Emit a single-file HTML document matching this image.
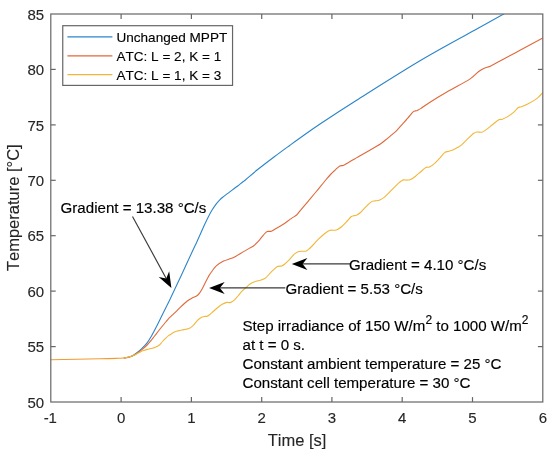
<!DOCTYPE html>
<html><head><meta charset="utf-8"><title>Temperature plot</title>
<style>
html,body{margin:0;padding:0;background:#fff;}
svg{display:block;}
text{font-family:"Liberation Sans",sans-serif;fill:#000;font-kerning:none;}
.tk{font-size:15px;fill:#262626;stroke:#262626;stroke-width:0.12px;}
.lb{font-size:16.5px;fill:#262626;stroke:#262626;stroke-width:0.12px;}
.an{font-size:15.1px;stroke:#000;stroke-width:0.15px;}
.lg{font-size:13.55px;stroke:#000;stroke-width:0.12px;}
</style></head><body>
<svg width="550" height="454" viewBox="0 0 550 454">
<rect x="0" y="0" width="550" height="454" fill="#fff"/>
<defs><clipPath id="c"><rect x="50.8" y="14.0" width="492.0" height="388.0"/></clipPath></defs>
<g clip-path="url(#c)">
<path fill="none" stroke="#2A85CB" stroke-width="1.10" stroke-linejoin="round" d="M124.00,358.00C124.67,357.88 126.58,357.68 128.00,357.30C129.42,356.92 130.90,356.55 132.50,355.70C134.10,354.85 136.02,353.43 137.60,352.20C139.18,350.97 140.42,349.87 142.00,348.30C143.58,346.73 145.52,344.85 147.10,342.80C148.68,340.75 149.93,338.70 151.50,336.00C153.07,333.30 154.80,329.93 156.50,326.60C158.20,323.27 160.17,319.10 161.70,316.00C163.23,312.90 164.35,310.70 165.70,308.00C167.05,305.30 167.27,305.10 169.80,299.80C172.33,294.50 177.03,284.50 180.90,276.20C184.77,267.90 190.38,255.63 193.00,250.00C195.62,244.37 195.35,245.10 196.60,242.40C197.85,239.70 199.20,236.70 200.50,233.80C201.80,230.90 203.17,227.68 204.40,225.00C205.63,222.32 206.65,220.15 207.90,217.70C209.15,215.25 210.57,212.53 211.90,210.30C213.23,208.07 214.58,206.05 215.90,204.30C217.22,202.55 218.48,201.12 219.80,199.80C221.12,198.48 222.47,197.47 223.80,196.40C225.13,195.33 226.32,194.53 227.80,193.40C229.28,192.27 231.05,190.83 232.70,189.60C234.35,188.37 236.05,187.27 237.70,186.00C239.35,184.73 241.32,183.00 242.60,182.00C243.88,181.00 242.83,182.12 245.40,180.00C247.97,177.88 253.23,173.13 258.00,169.30C262.77,165.47 268.67,161.02 274.00,157.00C279.33,152.98 285.67,148.37 290.00,145.20C294.33,142.03 295.00,141.53 300.00,138.00C305.00,134.47 310.50,130.33 320.00,124.00C329.50,117.67 340.33,110.53 357.00,100.00C373.67,89.47 400.33,72.47 420.00,60.80C439.67,49.13 460.90,37.88 475.00,30.00C489.10,22.12 497.93,17.22 504.60,13.50C511.27,9.78 513.27,8.67 515.00,7.70"/>
<path fill="none" stroke="#E0683A" stroke-width="1.10" stroke-linejoin="round" d="M123.60,358.00C124.33,357.90 126.52,357.75 128.00,357.40C129.48,357.05 131.08,356.52 132.50,355.90C133.92,355.28 134.88,354.78 136.50,353.70C138.12,352.62 140.43,350.85 142.20,349.40C143.97,347.95 145.55,346.57 147.10,345.00C148.65,343.43 150.25,341.50 151.50,340.00C152.75,338.50 153.18,337.83 154.60,336.00C156.02,334.17 158.13,331.33 160.00,329.00C161.87,326.67 164.47,323.62 165.80,322.00C167.13,320.38 166.92,320.43 168.00,319.30C169.08,318.17 170.97,316.48 172.30,315.20C173.63,313.92 174.72,312.87 176.00,311.60C177.28,310.33 178.12,309.37 180.00,307.60C181.88,305.83 185.28,302.60 187.30,301.00C189.32,299.40 190.48,298.88 192.10,298.00C193.72,297.12 195.77,296.50 197.00,295.70C198.23,294.90 198.70,294.23 199.50,293.20C200.30,292.17 200.82,291.28 201.80,289.50C202.78,287.72 204.20,284.82 205.40,282.50C206.60,280.18 207.82,277.60 209.00,275.60C210.18,273.60 211.28,272.12 212.50,270.50C213.72,268.88 214.45,267.47 216.30,265.90C218.15,264.33 221.18,262.32 223.60,261.10C226.02,259.88 228.82,259.38 230.80,258.60C232.78,257.82 233.43,257.52 235.50,256.40C237.57,255.28 240.85,253.28 243.20,251.90C245.55,250.52 247.83,249.13 249.60,248.10C251.37,247.07 252.32,246.85 253.80,245.70C255.28,244.55 257.07,242.77 258.50,241.20C259.93,239.63 261.12,237.80 262.40,236.30C263.68,234.80 265.30,233.02 266.20,232.20C267.10,231.38 266.93,231.57 267.80,231.40C268.67,231.23 270.18,231.60 271.40,231.20C272.62,230.80 273.67,229.83 275.10,229.00C276.53,228.17 278.63,227.00 280.00,226.20C281.37,225.40 281.38,225.50 283.30,224.20C285.22,222.90 289.28,219.93 291.50,218.40C293.72,216.87 295.22,216.20 296.60,215.00C297.98,213.80 297.88,213.48 299.80,211.20C301.72,208.92 305.35,204.58 308.10,201.30C310.85,198.02 313.37,195.05 316.30,191.50C319.23,187.95 323.25,182.92 325.70,180.00C328.15,177.08 329.38,175.68 331.00,174.00C332.62,172.32 333.93,171.25 335.40,169.90C336.87,168.55 338.52,166.63 339.80,165.90C341.08,165.17 341.78,166.00 343.10,165.50C344.42,165.00 345.72,164.03 347.70,162.90C349.68,161.77 353.08,159.82 355.00,158.70C356.92,157.58 356.95,157.50 359.20,156.20C361.45,154.90 365.67,152.52 368.50,150.90C371.33,149.28 374.28,147.60 376.20,146.50C378.12,145.40 378.62,145.25 380.00,144.30C381.38,143.35 382.83,142.13 384.50,140.80C386.17,139.47 388.02,137.97 390.00,136.30C391.98,134.63 394.40,132.75 396.40,130.80C398.40,128.85 400.07,126.77 402.00,124.60C403.93,122.43 406.42,119.63 408.00,117.80C409.58,115.97 410.58,114.63 411.50,113.60C412.42,112.57 412.83,112.05 413.50,111.60C414.17,111.15 414.85,111.10 415.50,110.90C416.15,110.70 416.48,110.82 417.40,110.40C418.32,109.98 418.90,109.77 421.00,108.40C423.10,107.03 425.55,105.02 430.00,102.20C434.45,99.38 441.07,95.35 447.70,91.50C454.33,87.65 464.68,82.38 469.80,79.10C474.92,75.82 475.98,73.62 478.40,71.80C480.82,69.98 482.22,69.17 484.30,68.20C486.38,67.23 488.28,67.22 490.90,66.00C493.52,64.78 495.07,63.57 500.00,60.90C504.93,58.23 513.37,53.83 520.50,50.00C527.63,46.17 539.08,39.92 542.80,37.90"/>
<path fill="none" stroke="#F0B83A" stroke-width="1.10" stroke-linejoin="round" d="M124.00,358.00C124.67,357.88 126.58,357.67 128.00,357.30C129.42,356.93 131.08,356.35 132.50,355.80C133.92,355.25 135.25,354.60 136.50,354.00C137.75,353.40 138.83,352.77 140.00,352.20C141.17,351.63 142.30,351.07 143.50,350.60C144.70,350.13 146.00,349.75 147.20,349.40C148.40,349.05 149.48,348.80 150.70,348.50C151.92,348.20 153.45,347.92 154.50,347.60C155.55,347.28 156.18,347.03 157.00,346.60C157.82,346.17 158.48,345.85 159.40,345.00C160.32,344.15 161.43,342.65 162.50,341.50C163.57,340.35 164.80,339.08 165.80,338.10C166.80,337.12 167.67,336.25 168.50,335.60C169.33,334.95 169.80,334.80 170.80,334.20C171.80,333.60 173.30,332.55 174.50,332.00C175.70,331.45 176.78,331.23 178.00,330.90C179.22,330.57 180.50,330.27 181.80,330.00C183.10,329.73 184.60,329.53 185.80,329.30C187.00,329.07 187.85,329.17 189.00,328.60C190.15,328.03 191.70,326.77 192.70,325.90C193.70,325.03 194.20,324.32 195.00,323.40C195.80,322.48 196.67,321.27 197.50,320.40C198.33,319.53 199.18,318.78 200.00,318.20C200.82,317.62 201.57,317.20 202.40,316.90C203.23,316.60 204.20,316.52 205.00,316.40C205.80,316.28 206.45,316.47 207.20,316.20C207.95,315.93 208.70,315.40 209.50,314.80C210.30,314.20 210.57,313.87 212.00,312.60C213.43,311.33 216.40,308.58 218.10,307.20C219.80,305.82 220.75,305.10 222.20,304.30C223.65,303.50 225.50,302.68 226.80,302.40C228.10,302.12 228.80,302.93 230.00,302.60C231.20,302.27 232.67,301.50 234.00,300.40C235.33,299.30 236.67,297.53 238.00,296.00C239.33,294.47 240.67,292.60 242.00,291.20C243.33,289.80 244.67,288.80 246.00,287.60C247.33,286.40 248.67,284.93 250.00,284.00C251.33,283.07 252.67,282.53 254.00,282.00C255.33,281.47 256.67,281.17 258.00,280.80C259.33,280.43 260.67,280.33 262.00,279.80C263.33,279.27 264.62,278.75 266.00,277.60C267.38,276.45 268.97,274.28 270.30,272.90C271.63,271.52 272.80,270.35 274.00,269.30C275.20,268.25 276.20,267.17 277.50,266.60C278.80,266.03 280.63,266.30 281.80,265.90C282.97,265.50 283.40,265.08 284.50,264.20C285.60,263.32 286.93,262.10 288.40,260.60C289.87,259.10 292.03,256.48 293.30,255.20C294.57,253.92 295.20,253.47 296.00,252.90C296.80,252.33 297.18,252.08 298.10,251.80C299.02,251.52 300.27,251.30 301.50,251.20C302.73,251.10 304.33,251.50 305.50,251.20C306.67,250.90 307.40,250.27 308.50,249.40C309.60,248.53 310.48,247.67 312.10,246.00C313.72,244.33 316.18,241.40 318.20,239.40C320.22,237.40 322.62,235.32 324.20,234.00C325.78,232.68 326.68,232.13 327.70,231.50C328.72,230.87 329.07,230.42 330.30,230.20C331.53,229.98 333.90,230.32 335.10,230.20C336.30,230.08 336.48,230.03 337.50,229.50C338.52,228.97 339.78,228.20 341.20,227.00C342.62,225.80 344.40,223.97 346.00,222.30C347.60,220.63 349.72,218.03 350.80,217.00C351.88,215.97 351.88,216.33 352.50,216.10C353.12,215.87 353.75,215.80 354.50,215.60C355.25,215.40 356.00,215.42 357.00,214.90C358.00,214.38 359.62,213.22 360.50,212.50C361.38,211.78 361.20,211.75 362.30,210.60C363.40,209.45 365.48,207.13 367.10,205.60C368.72,204.07 370.68,202.18 372.00,201.40C373.32,200.62 373.80,201.08 375.00,200.90C376.20,200.72 377.68,200.88 379.20,200.30C380.72,199.72 382.48,198.65 384.10,197.40C385.72,196.15 387.30,194.38 388.90,192.80C390.50,191.22 392.08,189.52 393.70,187.90C395.32,186.28 397.33,184.25 398.60,183.10C399.87,181.95 400.50,181.53 401.30,181.00C402.10,180.47 402.43,180.05 403.40,179.90C404.37,179.75 405.88,180.18 407.10,180.10C408.32,180.02 409.30,180.05 410.70,179.40C412.10,178.75 413.78,177.52 415.50,176.20C417.22,174.88 419.27,172.97 421.00,171.50C422.73,170.03 424.48,168.13 425.90,167.40C427.32,166.67 428.08,167.73 429.50,167.10C430.92,166.47 432.78,165.00 434.40,163.60C436.02,162.20 437.48,160.53 439.20,158.70C440.92,156.87 443.08,153.83 444.70,152.60C446.32,151.37 447.18,151.92 448.90,151.30C450.62,150.68 452.98,149.88 455.00,148.90C457.02,147.92 458.98,146.98 461.00,145.40C463.02,143.82 465.08,141.35 467.10,139.40C469.12,137.45 471.48,134.93 473.10,133.70C474.72,132.47 475.35,132.25 476.80,132.00C478.25,131.75 480.28,132.55 481.80,132.20C483.32,131.85 484.08,131.18 485.90,129.90C487.72,128.62 490.53,126.20 492.70,124.50C494.87,122.80 497.30,120.57 498.90,119.70C500.50,118.83 500.83,119.82 502.30,119.30C503.77,118.78 505.77,117.80 507.70,116.60C509.63,115.40 512.18,113.57 513.90,112.10C515.62,110.63 516.75,108.70 518.00,107.80C519.25,106.90 519.70,107.38 521.40,106.70C523.10,106.02 525.93,104.83 528.20,103.70C530.47,102.57 533.18,101.10 535.00,99.90C536.82,98.70 537.80,97.72 539.10,96.50C540.40,95.28 542.18,93.25 542.80,92.60"/>
<path fill="none" stroke="#F29B30" stroke-width="1.10" stroke-linejoin="round" d="M50.80,359.80C59.00,359.63 88.80,359.05 100.00,358.80C111.20,358.55 114.00,358.43 118.00,358.30C122.00,358.17 123.00,358.05 124.00,358.00"/>
</g>
<g stroke="#666" stroke-width="1.2" fill="none">
<rect x="50.8" y="14.0" width="492.0" height="388.0"/>
<line x1="121.1" y1="402.0" x2="121.1" y2="397.1"/>
<line x1="121.1" y1="14.0" x2="121.1" y2="18.9"/>
<line x1="191.4" y1="402.0" x2="191.4" y2="397.1"/>
<line x1="191.4" y1="14.0" x2="191.4" y2="18.9"/>
<line x1="261.7" y1="402.0" x2="261.7" y2="397.1"/>
<line x1="261.7" y1="14.0" x2="261.7" y2="18.9"/>
<line x1="331.9" y1="402.0" x2="331.9" y2="397.1"/>
<line x1="331.9" y1="14.0" x2="331.9" y2="18.9"/>
<line x1="402.2" y1="402.0" x2="402.2" y2="397.1"/>
<line x1="402.2" y1="14.0" x2="402.2" y2="18.9"/>
<line x1="472.5" y1="402.0" x2="472.5" y2="397.1"/>
<line x1="472.5" y1="14.0" x2="472.5" y2="18.9"/>
<line x1="50.8" y1="346.6" x2="55.7" y2="346.6"/>
<line x1="542.8" y1="346.6" x2="537.9" y2="346.6"/>
<line x1="50.8" y1="291.1" x2="55.7" y2="291.1"/>
<line x1="542.8" y1="291.1" x2="537.9" y2="291.1"/>
<line x1="50.8" y1="235.7" x2="55.7" y2="235.7"/>
<line x1="542.8" y1="235.7" x2="537.9" y2="235.7"/>
<line x1="50.8" y1="180.3" x2="55.7" y2="180.3"/>
<line x1="542.8" y1="180.3" x2="537.9" y2="180.3"/>
<line x1="50.8" y1="124.9" x2="55.7" y2="124.9"/>
<line x1="542.8" y1="124.9" x2="537.9" y2="124.9"/>
<line x1="50.8" y1="69.4" x2="55.7" y2="69.4"/>
<line x1="542.8" y1="69.4" x2="537.9" y2="69.4"/>
</g>
<text class="tk" x="50.3" y="423.4" text-anchor="middle">-1</text>
<text class="tk" x="121.1" y="423.4" text-anchor="middle">0</text>
<text class="tk" x="191.4" y="423.4" text-anchor="middle">1</text>
<text class="tk" x="261.7" y="423.4" text-anchor="middle">2</text>
<text class="tk" x="331.9" y="423.4" text-anchor="middle">3</text>
<text class="tk" x="402.2" y="423.4" text-anchor="middle">4</text>
<text class="tk" x="472.5" y="423.4" text-anchor="middle">5</text>
<text class="tk" x="542.8" y="423.4" text-anchor="middle">6</text>
<text class="tk" x="44.1" y="407.6" text-anchor="end">50</text>
<text class="tk" x="44.1" y="352.2" text-anchor="end">55</text>
<text class="tk" x="44.1" y="296.8" text-anchor="end">60</text>
<text class="tk" x="44.1" y="241.4" text-anchor="end">65</text>
<text class="tk" x="44.1" y="185.9" text-anchor="end">70</text>
<text class="tk" x="44.1" y="130.5" text-anchor="end">75</text>
<text class="tk" x="44.1" y="75.1" text-anchor="end">80</text>
<text class="tk" x="44.1" y="19.6" text-anchor="end">85</text>
<text class="lb" x="297" y="445.5" text-anchor="middle">Time [s]</text>
<text class="lb" transform="translate(18.9,207.7) rotate(-90)" text-anchor="middle">Temperature [°C]</text>
<rect x="62.75" y="25.7" width="169.8" height="59.7" fill="#fff" stroke="#666" stroke-width="1.2"/>
<line x1="67.4" y1="36.9" x2="112.4" y2="36.9" stroke="#2A85CB" stroke-width="1.2"/>
<text class="lg" x="116.5" y="42.1">Unchanged MPPT</text>
<line x1="67.4" y1="55.8" x2="112.4" y2="55.8" stroke="#E0683A" stroke-width="1.2"/>
<text class="lg" x="116.5" y="60.9">ATC: L = 2, K = 1</text>
<line x1="67.4" y1="74.7" x2="112.4" y2="74.7" stroke="#F0B83A" stroke-width="1.2"/>
<text class="lg" x="116.5" y="79.7">ATC: L = 1, K = 3</text>
<line x1="132.5" y1="216.4" x2="166.2" y2="278.4" stroke="#3a3a3a" stroke-width="1.15"/><polygon fill="#000" points="171.4,287.9 158.7,277.1 166.2,278.4 169.2,271.3"/>
<line x1="285.3" y1="287.9" x2="219.9" y2="287.9" stroke="#3a3a3a" stroke-width="1.15"/><polygon fill="#000" points="209.1,287.9 224.7,281.9 219.9,287.9 224.7,293.9"/>
<line x1="350.0" y1="263.9" x2="302.6" y2="263.9" stroke="#3a3a3a" stroke-width="1.15"/><polygon fill="#000" points="291.8,263.9 307.4,257.9 302.6,263.9 307.4,269.9"/>
<text class="an" x="60.6" y="212.5">Gradient = 13.38 °C/s</text>
<text class="an" x="348.9" y="269.6">Gradient = 4.10 °C/s</text>
<text class="an" x="285.5" y="293.6">Gradient = 5.53 °C/s</text>
<text class="an" x="242.5" y="330.7">Step irradiance of 150 W/m<tspan dy="-6.8" font-size="12px">2</tspan><tspan dy="6.8"> to 1000 W/m</tspan><tspan dy="-6.8" font-size="12px">2</tspan></text>
<text class="an" x="242.5" y="349.5">at t = 0 s.</text>
<text class="an" x="242.5" y="369.1">Constant ambient temperature = 25 °C</text>
<text class="an" x="242.5" y="388.3">Constant cell temperature = 30 °C</text>
</svg></body></html>
